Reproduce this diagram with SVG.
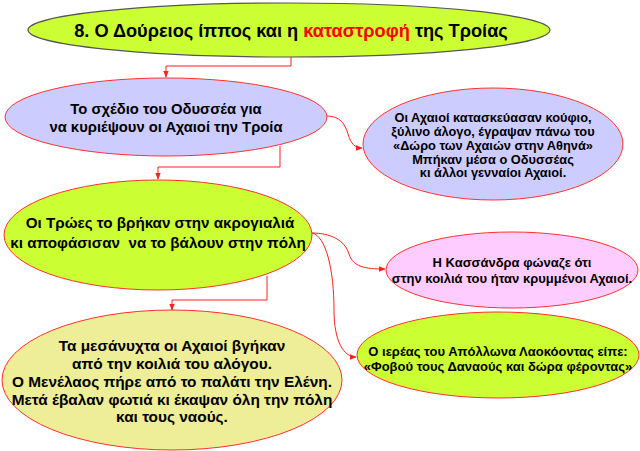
<svg xmlns="http://www.w3.org/2000/svg" width="640" height="451" viewBox="0 0 640 451">
<defs>
<style>
.t{font-family:"Liberation Sans",Arial,sans-serif;font-weight:bold;fill:#000;text-anchor:middle}
.c{fill:none;stroke:#ff2020;stroke-width:1}
.e{stroke:#ff3030;stroke-width:1}
</style>
<marker id="a" viewBox="0 0 10 10" refX="9" refY="5" markerWidth="7" markerHeight="7" orient="auto" markerUnits="userSpaceOnUse">
<path d="M0,1 L10,5 L0,9 z" fill="#ff2020"/>
</marker>
</defs>
<rect width="640" height="451" fill="#fff"/>
<g id="connectors">
<path class="c" d="M291,57 V66 H166 V77" marker-end="url(#a)"/>
<path class="c" d="M327,116 C340,116 345,124 348,134 C351,144 355,148 362,148" marker-end="url(#a)"/>
<path class="c" d="M280,146 V167 H158 V179" marker-end="url(#a)"/>
<path class="c" d="M312,233 C330,233 345,240 349,254 C353,267 365,269 385,269" marker-end="url(#a)"/>
<path class="c" d="M312,233 C326,236 334,270 334,310 C334,342 344,357 356,357" marker-end="url(#a)"/>
<path class="c" d="M267,276 V300 H172 V310" marker-end="url(#a)"/>
</g>
<g id="n0">
<ellipse cx="289" cy="30" rx="261" ry="27" fill="#ccff33" stroke="#555" stroke-width="1.2"/>
<text class="t" x="291" y="37" font-size="18.2">8. Ο Δούρειος ίππος και η <tspan fill="#ff0000">καταστροφή</tspan> της Τροίας</text>
</g>
<g id="n1">
<ellipse class="e" cx="166" cy="117" rx="161" ry="39" fill="#ccccff"/>
<text class="t" x="166" y="114" font-size="14.8">Το σχέδιο του Οδυσσέα για</text>
<text class="t" x="166" y="132" font-size="14.8">να κυριέψουν οι Αχαιοί την Τροία</text>
</g>
<g id="n2">
<ellipse class="e" cx="493" cy="144" rx="130" ry="56" fill="#ccccff"/>
<text class="t" x="493" y="122" font-size="12.8">Οι Αχαιοί κατασκεύασαν κούφιο,</text>
<text class="t" x="493" y="136" font-size="12.8">ξύλινο άλογο, έγραψαν πάνω του</text>
<text class="t" x="493" y="150" font-size="12.8">«Δώρο των Αχαιών στην Αθηνά»</text>
<text class="t" x="493" y="163.5" font-size="12.8">Μπήκαν μέσα ο Οδυσσέας</text>
<text class="t" x="493" y="177" font-size="12.8">κι άλλοι γενναίοι Αχαιοί.</text>
</g>
<g id="n3">
<ellipse class="e" cx="158" cy="235" rx="154" ry="55" fill="#ccff33"/>
<text class="t" x="160" y="228" font-size="15.2">Οι Τρώες το βρήκαν στην ακρογιαλιά</text>
<text class="t" x="158" y="248" font-size="15.2" xml:space="preserve">κι αποφάσισαν  να το βάλουν στην πόλη</text>
</g>
<g id="n4">
<ellipse class="e" cx="512" cy="270" rx="126" ry="38" fill="#ffccff"/>
<text class="t" x="512" y="267" font-size="13">Η Κασσάνδρα φώναζε ότι</text>
<text class="t" x="512" y="283" font-size="13">στην κοιλιά του ήταν κρυμμένοι Αχαιοί.</text>
</g>
<g id="n5">
<ellipse class="e" cx="172" cy="380" rx="170" ry="70" fill="#eeee99"/>
<text class="t" x="172" y="351" font-size="15.4">Τα μεσάνυχτα οι Αχαιοί βγήκαν</text>
<text class="t" x="172" y="369" font-size="15.4">από την κοιλιά του αλόγου.</text>
<text class="t" x="172" y="387" font-size="15.4">Ο Μενέλαος πήρε από το παλάτι την Ελένη.</text>
<text class="t" x="172" y="405" font-size="15.4">Μετά έβαλαν φωτιά κι έκαψαν όλη την πόλη</text>
<text class="t" x="172" y="422" font-size="15.4">και τους ναούς.</text>
</g>
<g id="n6">
<ellipse class="e" cx="498" cy="355" rx="141" ry="43" fill="#ccff33"/>
<text class="t" x="498" y="356" font-size="13">Ο ιερέας του Απόλλωνα Λαοκόοντας είπε:</text>
<text class="t" x="498" y="371" font-size="13">«Φοβού τους Δαναούς και δώρα φέροντας»</text>
</g>
</svg>
